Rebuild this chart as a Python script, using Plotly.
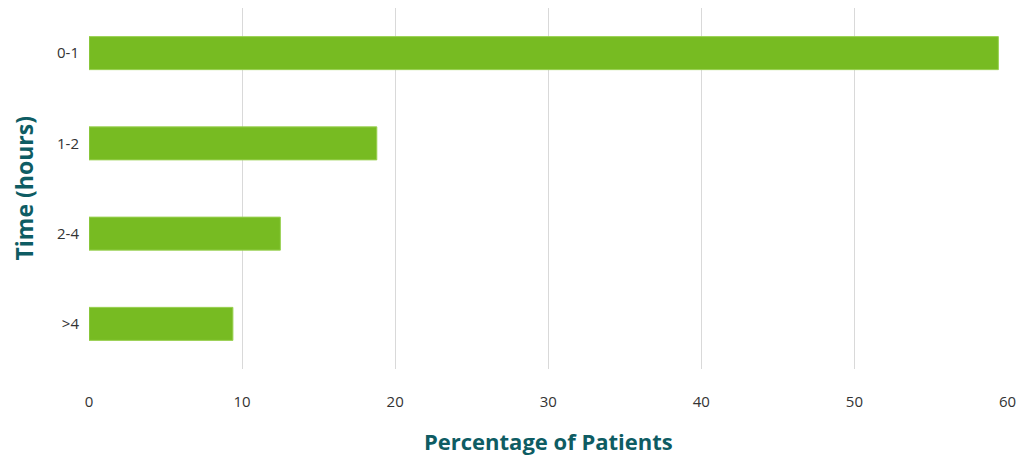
import plotly.graph_objects as go

# time to event buckets and share of patients (%)
time_buckets = ["0-1", "1-2", "2-4", ">4"]
pct_patients = [59.4, 18.8, 12.5, 9.4]
x_ticks = [0, 10, 20, 30, 40, 50, 60]

teal = "#0E5C63"
green = "#77BB22"

fig = go.Figure()
fig.add_trace(go.Bar(
    x=pct_patients,
    y=time_buckets,
    orientation="h",
    marker=dict(color=green, line=dict(color="#9AD152", width=1)),
    hoverinfo="x+y",
))

# page body has an 8px margin, so the figure is shifted/sized for it
fig.update_layout(
    width=1008,
    height=452,
    margin=dict(l=81, r=8, t=0, b=91, autoexpand=False),
    plot_bgcolor="white",
    paper_bgcolor="white",
    bargap=0.634,
    showlegend=False,
    font=dict(family="Open Sans, sans-serif", size=15, color="#333333"),
    xaxis=dict(
        range=[0, 60.03],
        tickvals=x_ticks,
        showgrid=True,
        gridcolor="#D9D9D9",
        gridwidth=1,
        zeroline=False,
        showline=False,
        ticks="",
        automargin=False,
        ticklabelstandoff=22,
        ticklabeloverflow="allow",
    ),
    yaxis=dict(
        categoryorder="array",
        categoryarray=time_buckets[::-1],
        showgrid=False,
        zeroline=False,
        ticks="",
        automargin=False,
        ticklabelstandoff=9,
    ),
    annotations=[
        dict(text="<b>Percentage of Patients</b>", xref="paper", yref="paper",
             x=0.5, y=0, xanchor="center", yanchor="middle", yshift=-72,
             showarrow=False, font=dict(size=22, color=teal)),
        dict(text="<b>Time (hours)</b>", xref="paper", yref="paper",
             x=0, y=0.5, xanchor="center", yanchor="middle", xshift=-66,
             textangle=-90, showarrow=False, font=dict(size=23, color=teal)),
    ],
)

fig.write_html("out.html")
